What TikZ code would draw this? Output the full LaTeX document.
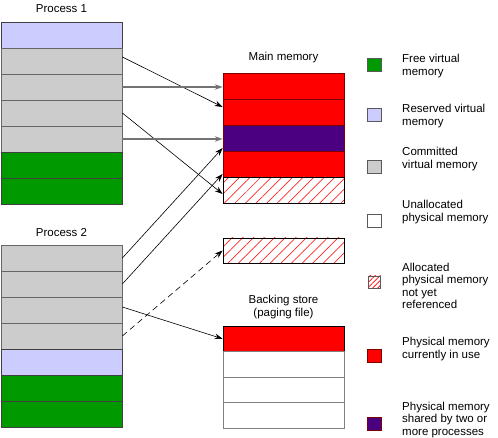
\documentclass[tikz,border=0pt]{standalone}
\usepackage{fontspec}
\setmainfont{Liberation Sans}
\usetikzlibrary{arrows.meta,patterns.meta}

\definecolor{freegreen}{RGB}{0,153,0}
\definecolor{resblue}{RGB}{204,204,255}
\definecolor{comgray}{RGB}{204,204,204}
\definecolor{usedred}{RGB}{255,0,0}
\definecolor{sharedpurple}{RGB}{75,0,130}

\tikzset{
  blk/.style={rectangle,draw=black!75,line width=.7pt,inner sep=0pt,
    minimum width=121pt,minimum height=26pt},
  free/.style={fill=freegreen},
  reserved/.style={fill=resblue},
  committed/.style={fill=comgray,draw=black!60},
  used/.style={fill=usedred,draw=red!50!black},
  shared/.style={fill=sharedpurple,draw=red!50!black},
  unalloc/.style={fill=white,draw=black!50},
  hatched/.style={pattern={Lines[angle=45,distance=7.5pt,line width=.7pt]},
    pattern color=red!85,draw=black},
  sq/.style={rectangle,draw=black!65,line width=.7pt,inner sep=0pt,
    minimum width=14pt,minimum height=13pt},
  lbl/.style={anchor=west,align=left,inner sep=0pt},
  link/.style={-{Stealth[length=8pt,width=5.5pt]},line width=.6pt},
  hlink/.style={link,draw=black!55,line width=1.1pt},
}

\begin{document}
\begin{tikzpicture}[x=1pt,y=-1pt,font=\fontsize{11.5}{12.5}\selectfont]
\useasboundingbox (0,0) rectangle (498,438);

% titles
\node (t1) at (61.5,9) {Process 1};
\node (t2) at (61.5,233) {Process 2};
\node (t3) at (283.5,58) {Main memory};
\node[align=center] (t4) at (283.5,307) {Backing store\\(paging file)};

\begin{scope}[every node/.style={blk}]
  % process 1
  \node[reserved]  (a1) at (61.5,35)  {};
  \node[committed] (a2) at (61.5,61)  {};
  \node[committed] (a3) at (61.5,87)  {};
  \node[committed] (a4) at (61.5,113) {};
  \node[committed] (a5) at (61.5,139) {};
  \node[free]      (a6) at (61.5,165) {};
  \node[free]      (a7) at (61.5,191) {};

  % process 2
  \node[committed] (b1) at (61.5,258) {};
  \node[committed] (b2) at (61.5,284) {};
  \node[committed] (b3) at (61.5,310) {};
  \node[committed] (b4) at (61.5,336) {};
  \node[reserved]  (b5) at (61.5,362) {};
  \node[free]      (b6) at (61.5,388) {};
  \node[free]      (b7) at (61.5,414) {};

  % main memory
  \node[used]    (m1) at (283.5,86)  {};
  \node[used]    (m2) at (283.5,112) {};
  \node[shared]  (m3) at (283.5,138) {};
  \node[used]    (m4) at (283.5,164) {};
  \node[hatched] (m5) at (283.5,190) {};

  \node[hatched,minimum height=25pt] (h) at (283.5,250.5) {};

  % backing store
  \node[used,draw=black,minimum height=25.5pt]    (s1) at (283.5,338.8) {};
  \node[unalloc,minimum height=25.5pt] (s2) at (283.5,364.3) {};
  \node[unalloc,minimum height=25.5pt] (s3) at (283.5,389.8) {};
  \node[unalloc,minimum height=25.5pt] (s4) at (283.5,415.3) {};
\end{scope}

% mappings
\draw[link] ([yshift=4pt]a2.east) -- ([yshift=5pt]m2.west);
\draw[hlink] (a3.east) -- (a3.east -| m1.west);
\draw[link] (a4.east) -- ([yshift=-4pt]m5.west);
\draw[hlink] (a5.east) -- (a5.east -| m3.west);
\draw[link] (b1.east) -- ([yshift=-10pt]m3.west);
\draw[link] (b2.east) -- ([yshift=-10pt]m4.west);
\draw[link] ([yshift=3pt]b3.east) -- (s1.west);
\draw[link,dash pattern=on 6pt off 4pt] (b4.east) -- (h.west);

% legend
\begin{scope}[every node/.style={sq}]
  \node[free]      (k1) at (374.5,65)  {};
  \node[reserved]  (k2) at (374.5,115) {};
  \node[committed,draw=black!65] (k3) at (374.5,167) {};
  \node[unalloc,draw=black!65]   (k4) at (374.5,221) {};
  \node[hatched,draw=black!65,minimum width=12pt,minimum height=12pt,
    pattern={Lines[angle=45,distance=3.5pt,line width=.9pt]}] (k5) at (374.5,282) {};
  \node[used]      (k6) at (374.5,356) {};
  \node[shared]    (k7) at (374.5,424) {};
\end{scope}

\node[lbl] (l1) at (402,66)  {Free virtual\\memory};
\node[lbl] (l2) at (402,116) {Reserved virtual\\memory};
\node[lbl] (l3) at (402,159) {Committed\\virtual memory};
\node[lbl] (l4) at (402,212) {Unallocated\\physical memory};
\node[lbl] (l5) at (402,286) {Allocated\\physical memory\\not yet\\referenced};
\node[lbl] (l6) at (402,349) {Physical memory\\currently in use};
\node[lbl] (l7) at (402,420) {Physical memory\\shared by two or\\more processes};

\end{tikzpicture}
\end{document}
